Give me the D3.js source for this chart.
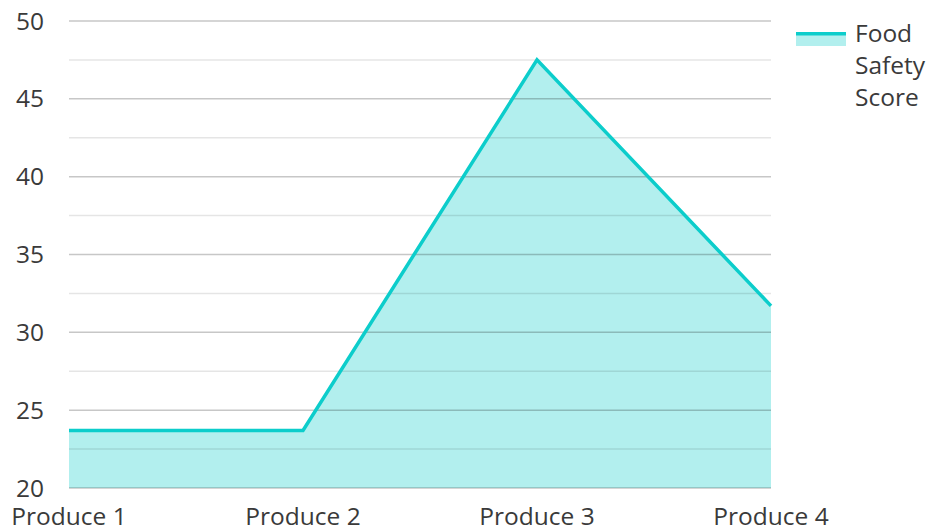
<!DOCTYPE html>
<html>
<head>
<meta charset="utf-8">
<script src="https://cdn.jsdelivr.net/npm/d3@7"></script>
<style>
  body { margin: 0; background: #fff; }
  text { font-family: "Open Sans", "Noto Sans", sans-serif; fill: #3a3a3a; }
</style>
</head>
<body>
<svg id="chart" width="929" height="529"></svg>
<script>
// data
var categories = ["Produce 1", "Produce 2", "Produce 3", "Produce 4"];
var scores = [23.7, 23.7, 47.5, 31.7];
var yTicks = [20, 25, 30, 35, 40, 45, 50];
var yMinorTicks = [22.5, 27.5, 32.5, 37.5, 42.5, 47.5];
var seriesName = ["Food", "Safety", "Score"];

var lineColor = "#0ccdcb";
var fillColor = "#b2efee";

var svg = d3.select("#chart");
var margin = {left: 69, right: 158, top: 21, bottom: 41};
var W = 929, H = 529;

var x = d3.scalePoint()
    .domain(categories)
    .range([margin.left, W - margin.right])
    .padding(0);

var y = d3.scaleLinear()
    .domain([20, 50])
    .range([H - margin.bottom, margin.top]);

var data = categories.map((c, i) => ({cat: c, v: scores[i]}));

// area fill first
var area = d3.area()
    .x(d => x(d.cat))
    .y0(y(20))
    .y1(d => y(d.v));

svg.append("path")
    .datum(data)
    .attr("d", area)
    .attr("fill", fillColor);

// grid lines drawn over the fill (semi transparent)
svg.append("g").selectAll("line.minor")
    .data(yMinorTicks)
  .enter().append("line")
    .attr("class", "minor")
    .attr("x1", margin.left).attr("x2", W - margin.right)
    .attr("y1", d => y(d)).attr("y2", d => y(d))
    .attr("stroke", "rgba(0,0,0,0.1)")
    .attr("stroke-width", 1.5);

svg.append("g").selectAll("line.major")
    .data(yTicks)
  .enter().append("line")
    .attr("class", "major")
    .attr("x1", margin.left).attr("x2", W - margin.right)
    .attr("y1", d => y(d)).attr("y2", d => y(d))
    .attr("stroke", "rgba(0,0,0,0.22)")
    .attr("stroke-width", 1.5);

// line
var line = d3.line()
    .x(d => x(d.cat))
    .y(d => y(d.v));

svg.append("path")
    .datum(data)
    .attr("d", line)
    .attr("fill", "none")
    .attr("stroke", lineColor)
    .attr("stroke-width", 3.5)
    .attr("stroke-linejoin", "miter");

// y labels
svg.append("g").selectAll("text")
    .data(yTicks)
  .enter().append("text")
    .attr("x", 44)
    .attr("y", d => y(d) + 8.5)
    .attr("text-anchor", "end")
    .attr("font-size", 24.5)
    .text(d => d);

// x labels
svg.append("g").selectAll("text")
    .data(categories)
  .enter().append("text")
    .attr("x", d => x(d))
    .attr("y", 525)
    .attr("text-anchor", "middle")
    .attr("font-size", 24.5)
    .text(d => d);

// legend
var lg = svg.append("g").attr("transform", "translate(796,32)");
lg.append("rect").attr("width", 50).attr("height", 14).attr("fill", fillColor);
lg.append("rect").attr("width", 50).attr("height", 3.5).attr("fill", lineColor);
lg.selectAll("text")
    .data(seriesName)
  .enter().append("text")
    .attr("x", 59)
    .attr("y", (d, i) => 10 + i * 32)
    .attr("font-size", 24.5)
    .text(d => d);
</script>
</body>
</html>
